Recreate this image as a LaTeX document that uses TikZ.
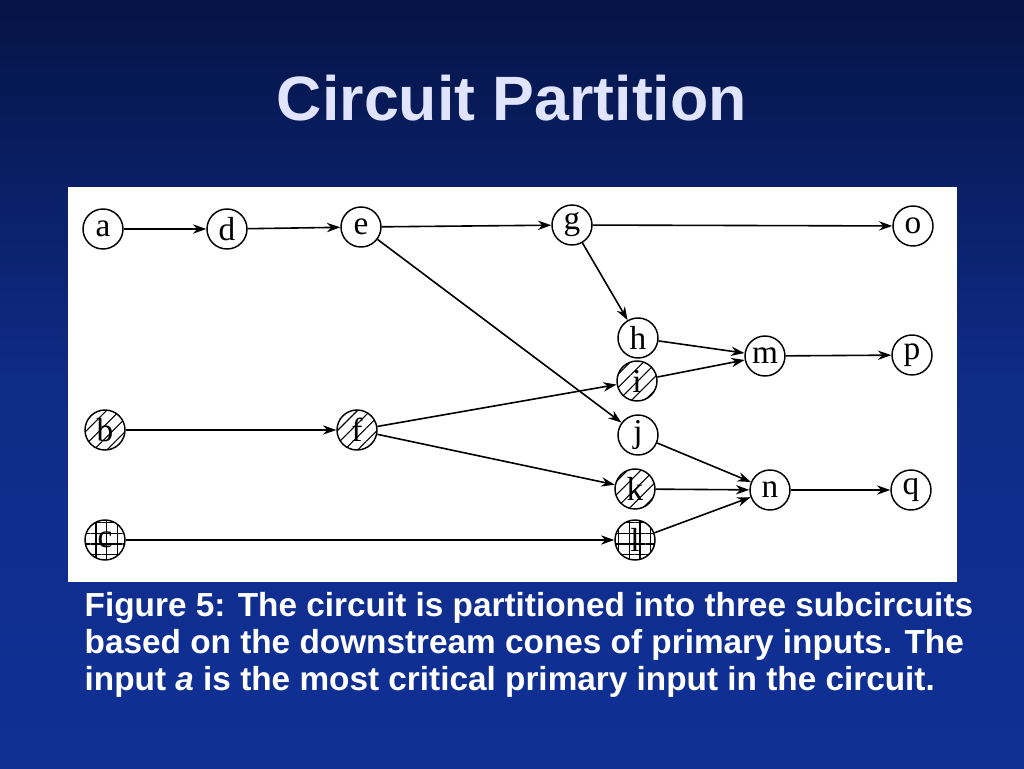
\documentclass[tikz,border=0pt]{standalone}
\usepackage{fontspec}
\setsansfont{Liberation Sans}
\setmainfont{Liberation Serif}
\usetikzlibrary{arrows.meta, patterns.meta}
\definecolor{slideblue}{RGB}{16, 48, 150}
\definecolor{slidetop}{RGB}{5, 20, 70}
\definecolor{titlecol}{RGB}{225, 228, 255}
\begin{document}
\begin{tikzpicture}[
        x=0.75pt, y=-0.75pt,
        >={Stealth[length=10pt, width=7pt]}, % arrow head style
        gate/.style={circle, draw, line width=1.1pt, minimum size=30pt, inner sep=0pt,
            font=\rmfamily\fontsize{25}{25}\selectfont},
        hatch/.style={gate, pattern={Lines[angle=45, distance=7pt, line width=0.8pt]}},
        grid/.style={gate, pattern={Hatch[distance=8pt, line width=0.8pt]}},
        wire/.style={->, line width=1.2pt}
    ]
        \useasboundingbox (0,0) rectangle (1024,768);
        \shade[top color=slidetop, bottom color=slideblue, middle color=slideblue!90!black] (0,0) rectangle (1024,768);
        \node[text=titlecol, font=\sffamily\bfseries\fontsize{47}{47}\selectfont] (title) at (512,98) {Circuit Partition};
        \fill[white] (68,187) rectangle (957,582);

        % inputs
        \node[gate] (a) at (103,229) {a};
        \node[hatch] (b) at (105,430) {b};
        \node[grid] (c) at (105,540) {c};
        % inner gates
        \node[gate] (d) at (227,229) {d};
        \node[gate] (e) at (361,227) {e};
        \node[gate] (g) at (572,225) {g};
        \node[hatch] (f) at (357,430) {f};
        \node[gate] (h) at (638,338) {h};
        \node[hatch] (i) at (637,381) {i};
        \node[gate] (j) at (638,435) {j};
        \node[hatch] (k) at (635,489) {k};
        \node[grid] (l) at (635,540) {l};
        \node[gate] (m) at (765,356) {m};
        \node[gate] (n) at (770,490) {n};
        % outputs
        \node[gate] (o) at (913,226) {o};
        \node[gate] (p) at (912,355) {p};
        \node[gate] (q) at (911,490) {q};

        \draw[wire] (a) -- (d);
        \draw[wire] (d) -- (e);
        \draw[wire] (e) -- (g);
        \draw[wire] (g) -- (o);
        \draw[wire] (e) -- (j);
        \draw[wire] (g) -- (h);
        \draw[wire] (h) -- (m);
        \draw[wire] (i) -- (m);
        \draw[wire] (m) -- (p);
        \draw[wire] (b) -- (f);
        \draw[wire] (f) -- (i);
        \draw[wire] (f) -- (k);
        \draw[wire] (c) -- (l);
        \draw[wire] (j) -- (n);
        \draw[wire] (k) -- (n);
        \draw[wire] (l) -- (n);
        \draw[wire] (n) -- (q);

        \node[text=white, anchor=north west, align=left,
            font=\sffamily\bfseries\fontsize{25}{27.7}\selectfont] (caption) at (80,588)
            {Figure 5: The circuit is partitioned into three subcircuits\\
             based on the downstream cones of primary inputs. The\\
             input \textit{a} is the most critical primary input in the circuit.};
\end{tikzpicture}
\end{document}
